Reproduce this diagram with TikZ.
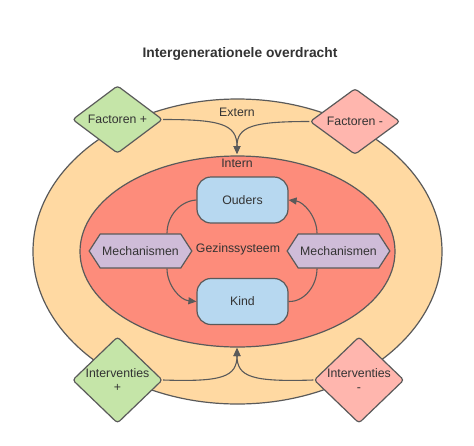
\documentclass[tikz,border=0pt]{standalone}
\usepackage{fontspec}
\setmainfont{Liberation Sans}
\usetikzlibrary{shapes.geometric,shapes.symbols,arrows.meta}
\definecolor{lineC}{HTML}{5A5A5A}
\definecolor{txtC}{HTML}{333333}
\definecolor{outerC}{HTML}{FFD9A2}
\definecolor{innerC}{HTML}{FD8C7B}
\definecolor{blueC}{HTML}{B7D8F0}
\definecolor{lavC}{HTML}{CFBCD8}
\definecolor{greenC}{HTML}{C5E5A8}
\definecolor{pinkC}{HTML}{FFB6AE}
\tikzset{
  lbl/.style={text=txtC, font=\fontsize{12.3}{14}\selectfont, inner sep=0pt},
  ellouter/.style={draw=lineC, line width=1.2pt, fill=outerC},
  ellinner/.style={draw=lineC, line width=1.2pt, fill=innerC},
  rbox/.style={lbl, draw=lineC, line width=1.2pt, fill=blueC, rounded corners=14pt, minimum width=91pt, minimum height=46pt},
  hexa/.style={lbl, draw=lineC, line width=1.2pt, fill=lavC, signal, signal to=west and east, signal pointer angle=114, minimum width=99pt, minimum height=34pt, inner xsep=2pt},
  dia/.style={lbl, draw=lineC, line width=1.2pt, diamond, rounded corners=3pt, minimum width=90pt, minimum height=66pt, inner sep=0pt, align=center},
  conn/.style={draw=lineC, line width=1.1pt},
  arr/.style={conn, -{Triangle[length=8pt,width=7pt]}}
}
\begin{document}
\begin{tikzpicture}[x=1pt,y=-1pt]
\useasboundingbox (0,0) rectangle (474,445);
\fill[white] (0,0) rectangle (474,445);
\node[font=\bfseries\fontsize{13.8}{16}\selectfont, text=txtC, inner sep=0pt] (title) at (240,54) {Intergenerationele overdracht};
\path[ellouter] (237.5,251.5) ellipse [x radius=204.5, y radius=152.5];
\node[lbl] (ext) at (237,112) {Extern};
\path[ellinner] (237.5,251.5) ellipse [x radius=157.5, y radius=95.5];
\node[lbl] (int) at (237,163) {Intern};
\node[lbl] (gez) at (238,249) {Gezinssysteem};
\node[rbox] (ou) at (242.5,200) {Ouders};
\node[rbox] (ki) at (242.5,301.5) {Kind};
\node[hexa] (ml) at (140.5,251) {Mechanismen};
\node[hexa] (mr) at (338.5,251) {Mechanismen};
\node[dia, fill=greenC] (fp) at (117.5,119.5) {Factoren +};
\node[dia, fill=pinkC] (fm) at (355,121.5) {Factoren -};
\node[dia, fill=greenC] (ip) at (117.5,380) {Interventies\\+};
\node[dia, fill=pinkC] (im) at (359,380) {Interventies\\-};
\coordinate (topT) at (237,154);
\coordinate (botT) at (237,348);
% external influences
\draw[arr] (fp.east) .. controls (220,119.5) and (237,124) .. (topT);
\draw[arr] (fm.west) .. controls (254,121.5) and (237,126) .. (topT);
\draw[arr] (ip.east) .. controls (222,382) and (237,377) .. (botT);
\draw[arr] (im.west) .. controls (252,382) and (237,377) .. (botT);
% family cycle
\draw[conn] (ou.west) .. controls (180,201) and (167,216) .. ([xshift=26.5pt]ml.north);
\draw[arr] ([xshift=26.5pt]ml.south) .. controls (167,285) and (180,300) .. (ki.west);
\draw[conn] (ki.east) .. controls (305,302) and (317,285) .. ([xshift=-21.5pt]mr.south);
\draw[arr] ([xshift=-21.5pt]mr.north) .. controls (317,217) and (304,202) .. (ou.east);
\end{tikzpicture}
\end{document}
